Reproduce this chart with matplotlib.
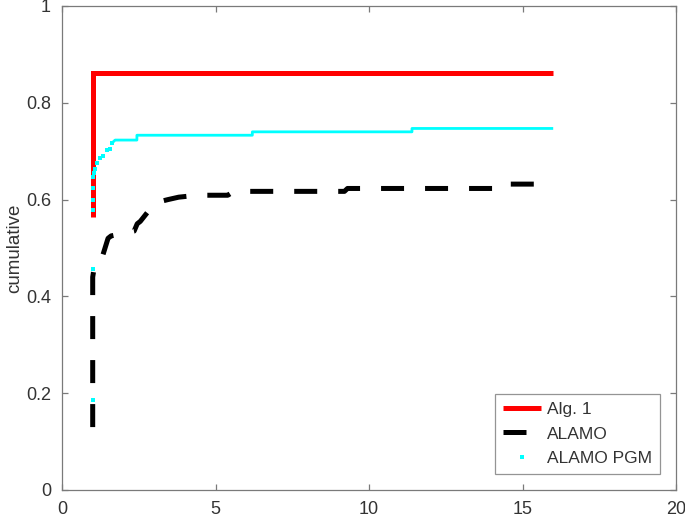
import matplotlib
matplotlib.use('Agg')
import matplotlib.pyplot as plt
from matplotlib.lines import Line2D

# performance profile data
alg1_x = [1.0, 1.0, 16.0]
alg1_y = [0.565, 0.862, 0.862]

alamo_x = [1.0, 1.0, 1.05, 1.28, 1.5, 1.6, 2.0, 2.35, 2.45, 2.55, 2.8, 3.2, 3.45, 3.8,
           4.4, 5.4, 5.6, 9.2, 9.3, 14.4, 14.5, 16.0]
alamo_y = [0.13, 0.44, 0.46, 0.475, 0.52, 0.525, 0.530, 0.535, 0.55, 0.555, 0.575, 0.596,
           0.600, 0.605, 0.609, 0.609, 0.617, 0.617, 0.623, 0.623, 0.632, 0.632]

pgm_dot_x = [1.0, 1.0, 1.0, 1.0, 1.01, 1.02, 1.05, 1.08, 1.13, 1.24, 1.34, 1.45, 1.55, 1.63]
pgm_dot_y = [0.186, 0.457, 0.579, 0.600, 0.624, 0.647, 0.655, 0.663, 0.676, 0.686, 0.690,
             0.702, 0.705, 0.717]
pgm_x = [1.63, 1.73, 2.44, 2.44, 6.2, 6.2, 11.4, 11.4, 16.0]
pgm_y = [0.717, 0.723, 0.723, 0.733, 0.733, 0.740, 0.740, 0.747, 0.747]

xticks = [0, 5, 10, 15, 20]
yticks = [0, 0.2, 0.4, 0.6, 0.8, 1]

plt.rcParams['font.family'] = ['Liberation Sans', 'DejaVu Sans']

fig = plt.figure(figsize=(6.85, 5.19), dpi=100)
ax = fig.add_axes([62 / 685, 29 / 519, 614 / 685, 484 / 519])

ax.plot(alg1_x, alg1_y, color='#ff0000', lw=3.6, solid_capstyle='butt',
        solid_joinstyle='miter')
ax.plot(alamo_x, alamo_y, color='black', lw=3.6, dashes=(4.6, 4.2),
        dash_capstyle='butt')
ax.plot(pgm_x, pgm_y, color='#00ffff', lw=2.0, solid_capstyle='butt')
ax.plot(pgm_dot_x, pgm_dot_y, color='#00ffff', ls='none', marker='s', ms=3.0, mew=0)

ax.set_xlim(0, 20)
ax.set_ylim(0, 1)
ax.set_xticks(xticks)
ax.set_yticks(yticks)
ax.set_xticklabels([str(t) for t in xticks])
ax.set_yticklabels([('%g' % t) for t in yticks])

axis_col = '#7a7a7a'
text_col = '#333333'
for s in ax.spines.values():
    s.set_color(axis_col)
    s.set_linewidth(0.9)
ax.tick_params(direction='in', top=True, right=True, length=4, width=0.9,
               color=axis_col, labelcolor=text_col, labelsize=13, pad=8)
ax.set_ylabel('cumulative', fontsize=13.5, color=text_col, labelpad=2)

handles = [
    Line2D([], [], color='#ff0000', lw=3.6, solid_capstyle='butt'),
    Line2D([], [], color='black', lw=3.6, dashes=(4.6, 4.2), dash_capstyle='butt'),
    Line2D([], [], color='#00ffff', ls='none', marker='s', ms=3.0, mew=0),
]
leg = ax.legend(handles, ['Alg. 1', 'ALAMO', 'ALAMO PGM'], loc='lower right',
                bbox_to_anchor=(0.974, 0.033), borderaxespad=0, fontsize=12.5,
                frameon=True, fancybox=False, handlelength=2.2, handletextpad=0.35,
                labelspacing=0.55, borderpad=0.45, numpoints=1)
leg.get_frame().set_edgecolor(axis_col)
leg.get_frame().set_linewidth(0.9)
for t in leg.get_texts():
    t.set_color(text_col)

fig.savefig('out.png', dpi=100)
